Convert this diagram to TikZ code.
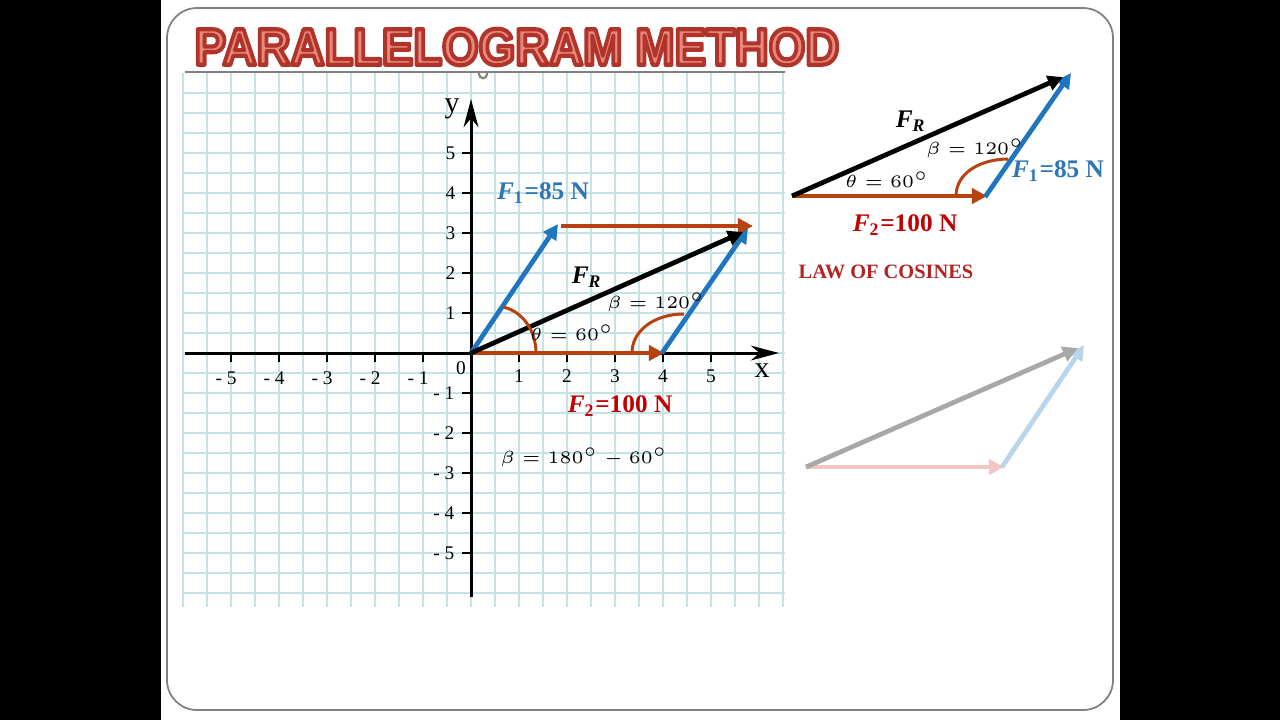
\documentclass[tikz,border=0pt]{standalone}
\usepackage{fontspec}
\setmainfont{Liberation Serif}
\newfontfamily\titlefont[FakeBold=8]{Liberation Sans Bold}
\usetikzlibrary{arrows.meta}
\definecolor{gridc}{HTML}{C4E3E6}
\definecolor{vblue}{HTML}{1F75BE}
\definecolor{vbrown}{HTML}{B5420F}
\definecolor{lblue}{HTML}{2E75B6}
\definecolor{lred}{HTML}{C00000}
\definecolor{lawred}{HTML}{B22424}
\definecolor{tfill}{HTML}{E8877C}
\definecolor{tborder}{HTML}{B0342A}
\definecolor{fpink}{HTML}{F2C6C2}
\definecolor{fblue}{HTML}{BAD4EA}
\definecolor{fgray}{HTML}{A8A8A8}
\definecolor{framec}{HTML}{808080}
\tikzset{
 gridline/.style={gridc, line width=0.45pt},
 axisline/.style={black, line width=0.85pt, -{Stealth[length=8pt,width=4.2pt,inset=2.5pt]}},
 tickline/.style={black, line width=0.7pt},
 ticklbl/.style={font=\fontsize{5.5}{6}\selectfont, inner sep=0pt},
 axislbl/.style={font=\fontsize{8.5}{9}\selectfont, inner sep=0pt},
 vec/.style={line width=1.35pt, -{Triangle[length=4.3pt,width=4.3pt]}},
 anglearc/.style={vbrown, line width=0.85pt},
 flbl/.style={font=\fontsize{7.2}{8}\selectfont\bfseries, inner sep=0pt},
 mlbl/.style={font=\fontsize{5.4}{7}\selectfont, inner sep=0pt},
 titletext/.style={font=\titlefont\fontsize{14.7}{16}\selectfont, xscale=0.91, inner sep=0pt},
}
\newcommand\Flabel[3]{\textcolor{#1}{\textit{F}\textsubscript{#2}=#3}}
\newcommand\dg{^{\scriptscriptstyle\circ}}
\begin{document}
\begin{tikzpicture}[x=0.01cm,y=-0.01cm]
\useasboundingbox (0,0) rectangle (1280,720);
\fill[black] (0,0) rectangle (1280,720);
\fill[white] (161,0) rectangle (1120,720);
\draw[framec, line width=0.5pt, rounded corners=0.3cm] (167,8) rectangle (1113,710);
% grid
\foreach \i in {-12,...,13} \draw[gridline] ({471+24*\i},73) -- ({471+24*\i},607);
\foreach \j in {-13,...,12} \draw[gridline] (183,{353+20*\j}) -- (785,{353+20*\j});
\draw[framec, line width=0.8pt] (185,72) -- (785,72);
\draw[framec, line width=0.6pt] (479,73) .. controls (479,80) and (487,80) .. (487,73);
% title
\node[titletext] (title) at (517,47) {\color{tfill}\special{pdf:literal direct 0.690 0.204 0.165 RG 1 j 1 J}PARALLELOGRAM METHOD};
% axes
\coordinate (xs) at (185,353); \coordinate (xe) at (779,353);
\coordinate (ys) at (471,597); \coordinate (ye) at (471,99);
\draw[axisline] (xs) -- (xe);
\draw[axisline] (ys) -- (ye);
\node[axislbl] (xlab) at (762,371) {x};
\node[axislbl] (ylab) at (452,109) {y};
\foreach \k in {-5,...,-1,1,2,3,4,5} {
  \draw[tickline] ({471+48*\k},353) -- ({471+48*\k},362);
  \draw[tickline] (462,{353-40*\k}) -- (471,{353-40*\k});
}
\foreach \k in {1,...,5} {
  \node[ticklbl] (xp\k) at ({471+48*\k},376) {\k};
  \node[ticklbl, anchor=east] (yp\k) at (456,{353-40*\k}) {\k};
  \node[ticklbl] (xn\k) at ({471-48*\k-5},378) {- \k};
  \node[ticklbl, anchor=east] (yn\k) at (455,{353+40*\k}) {- \k};
}
\node[ticklbl] (zero) at (461,368) {0};
% parallelogram
\coordinate (O) at (471,353);
\coordinate (F2t) at (664,353);
\coordinate (F1t) at (558,224);
\coordinate (F1b) at (662,353);
\coordinate (F1bt) at (748,228);
\coordinate (Tt) at (561,226);
\coordinate (Tte) at (753,226);
\coordinate (Rt) at (743,232);
\draw[vec, vbrown] (O) -- (F2t);
\draw[vec, vblue] (O) -- (F1t);
\draw[vec, vblue] (F1b) -- (F1bt);
\draw[vec, vbrown] (Tt) -- (Tte);
\draw[vec, black] (O) -- (Rt);
\draw[anglearc] (503,307) .. controls (522,311) and (536,330) .. (536,353);
\draw[anglearc] (632,353) .. controls (632,330) and (655,314) .. (684,314);
\node[flbl] (f1) at (543,193) {\Flabel{lblue}{1}{85 N}};
\node[flbl] (fr) at (587,277) {\textit{F}\textsubscript{\textit{R}}};
\node[mlbl] (beta1) at (656,302) {$\beta = 120\dg$};
\node[mlbl] (theta1) at (572,333) {$\theta = 60\dg$};
\node[flbl] (f2) at (620,406) {\Flabel{lred}{2}{100 N}};
\node[mlbl] (beta2) at (584,457) {$\beta = 180\dg - 60\dg$};
% triangle
\coordinate (P0) at (792,196); \coordinate (P1) at (987,196);
\coordinate (P1s) at (985,197); \coordinate (P2) at (1071,73);
\coordinate (PR) at (1063,77);
\draw[vec, vbrown] (P0) -- (P1);
\draw[vec, vblue] (P1s) -- (P2);
\draw[vec, black] (P0) -- (PR);
\draw[anglearc] (956,196) .. controls (956,172) and (982,159) .. (1008,159);
\node[flbl] (fr2) at (911,121) {\textit{F}\textsubscript{\textit{R}}};
\node[mlbl] (beta3) at (975,148) {$\beta = 120\dg$};
\node[mlbl] (theta3) at (887,180) {$\theta = 60\dg$};
\node[flbl] (f1r) at (1058,171) {\Flabel{lblue}{1}{85 N}};
\node[flbl] (f2r) at (905,225) {\Flabel{lred}{2}{100 N}};
\node[font=\fontsize{5.8}{7}\selectfont\bfseries, text=lawred, inner sep=0pt] (law) at (886,272) {LAW OF COSINES};
% faded triangle
\coordinate (Q0) at (806,467); \coordinate (Q1) at (1004,467);
\coordinate (Q1s) at (1002,467); \coordinate (Q2) at (1084,345);
\coordinate (QR) at (1078,348);
\draw[vec, fpink] (Q0) -- (Q1);
\draw[vec, fblue] (Q1s) -- (Q2);
\draw[vec, fgray] (Q0) -- (QR);
\end{tikzpicture}
\end{document}
